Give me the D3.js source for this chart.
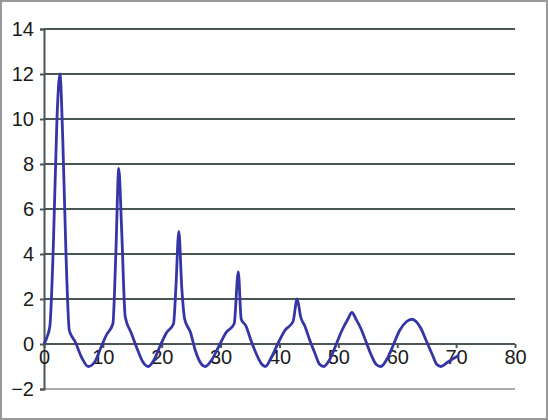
<!DOCTYPE html>
<html><head><meta charset="utf-8">
<script src="https://cdn.jsdelivr.net/npm/d3@7"></script>
<style>body{margin:0;background:#fff}text{font-family:"Liberation Sans",Arial,sans-serif;fill:#1a1a1a}</style>
</head><body><script>
var xs = [0,0.5,1,1.6,2.2,2.7,3.2,3.7,4.3,5.3,6.4,7.5,8.6,9.6,10.6,11.7,12.2,12.7,13.2,13.8,14.8,15.8,16.8,17.7,18.7,19.7,20.8,22,22.4,22.9,23.4,23.9,24.9,25.6,26.5,27.4,28.5,29.7,30.9,32.3,33,33.5,34.3,35.1,36,37,37.6,38.6,39.7,40.9,42.3,43,43.6,44.3,45.1,46,46.8,47.5,48.5,49.5,50.6,51.6,52.3,53,53.8,54.7,55.6,56.4,57.2,58.4,59.4,60.4,61.6,62.5,63.2,64,65,66,66.7,67.4,68.6,70.5];
var ys = [0,0.3,0.8,4.5,10,12,9,4.3,0.6,0.1,-0.6,-1,-0.8,-0.2,0.4,0.9,4,7.8,5,1.2,0.5,-0.2,-0.8,-1,-0.7,-0.1,0.5,0.9,2.5,5,2.5,1.1,0.5,-0.2,-0.8,-1,-0.7,-0.1,0.5,0.9,3.2,1.1,0.8,0.2,-0.4,-0.9,-1,-0.6,0,0.6,1,2,1.2,0.8,0.2,-0.4,-0.9,-1,-0.7,-0.1,0.6,1.1,1.4,1.1,0.7,0.1,-0.5,-0.9,-1,-0.6,0,0.6,1,1.1,1,0.7,0.1,-0.5,-0.9,-1,-0.8,-0.5];
var yTicks = [-2,0,2,4,6,8,10,12,14];
var xTicks = [0,10,20,30,40,50,60,70,80];

var W = 548, H = 420;
var svg = d3.select('body').append('svg').attr('width', W).attr('height', H);
svg.append('rect').attr('x', 1).attr('y', 1).attr('width', W - 2).attr('height', H - 2)
    .attr('fill', '#fff').attr('stroke', '#999').attr('stroke-width', 2);

var x = d3.scaleLinear().domain([0, 80]).range([44, 515]);
var y = d3.scaleLinear().domain([-2, 14]).range([389, 29]);

// gridlines
svg.append('g').selectAll('line').data(yTicks).enter().append('line')
    .attr('x1', x(0)).attr('x2', x(80))
    .attr('y1', function (d) { return y(d); }).attr('y2', function (d) { return y(d); })
    .attr('stroke', function (d) { return d === -2 ? '#aaa' : '#4a5555'; })
    .attr('stroke-width', 2);

// y axis
var yAxis = svg.append('g').attr('transform', 'translate(' + x(0) + ',0)')
    .call(d3.axisLeft(y).tickValues(yTicks).tickSize(4).tickPadding(6));
yAxis.select('.domain').attr('stroke', '#4a5555').attr('stroke-width', 2);
yAxis.selectAll('.tick line').attr('stroke', '#4a5555').attr('stroke-width', 2);
yAxis.selectAll('text').style('font-size', '20px');

// x axis on zero line
var xAxis = svg.append('g').attr('transform', 'translate(0,' + y(0) + ')')
    .call(d3.axisBottom(x).tickValues(xTicks).tickSize(4).tickPadding(2));
xAxis.select('.domain').remove();
xAxis.selectAll('.tick line').attr('stroke', '#4a5555').attr('stroke-width', 2);
xAxis.selectAll('text').style('font-size', '20px');

var line = d3.line()
    .x(function (d, i) { return x(xs[i]); })
    .y(function (d) { return y(d); })
    .curve(d3.curveMonotoneX);
svg.append('path').datum(ys).attr('d', line)
    .attr('fill', 'none').attr('stroke', '#3535a5').attr('stroke-width', 2.8)
    .attr('stroke-linejoin', 'round');
</script></body></html>
